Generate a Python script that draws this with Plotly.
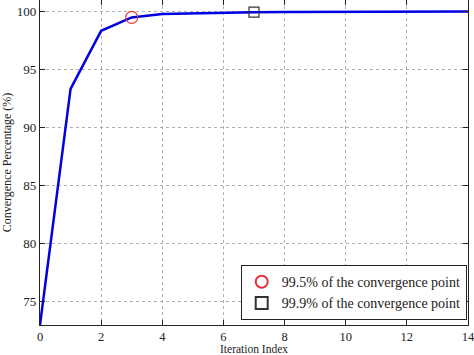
import plotly.graph_objects as go

iterations = list(range(15))
convergence = [73.0, 93.3, 98.3, 99.45, 99.75, 99.82, 99.86, 99.9, 99.92, 99.93, 99.94, 99.95, 99.95, 99.96, 99.96]
pt995_x, pt995_y = [3], [99.45]
pt999_x, pt999_y = [7], [99.9]
x_ticks = [0, 2, 4, 6, 8, 10, 12, 14]
y_ticks = [75, 80, 85, 90, 95, 100]

font = "Liberation Serif"
fig = go.Figure()
fig.add_trace(go.Scatter(x=iterations, y=convergence, mode="lines",
                         line=dict(color="#0000e0", width=2.5), showlegend=False))
fig.add_trace(go.Scatter(x=pt995_x, y=pt995_y, mode="markers",
                         marker=dict(symbol="circle-open", size=12, color="#e8303a", line=dict(width=1.2)),
                         name="99.5% of the convergence point"))
fig.add_trace(go.Scatter(x=pt999_x, y=pt999_y, mode="markers",
                         marker=dict(symbol="square-open", size=10, color="#333333", line=dict(width=1.2)),
                         name="99.9% of the convergence point"))

axis_common = dict(showline=True, linecolor="#222", linewidth=1.2, mirror="ticks",
                   ticks="inside", ticklen=5, tickcolor="#222",
                   showgrid=True, gridcolor="#b0b0b0", griddash="dot", gridwidth=1,
                   zeroline=False, tickfont=dict(family=font, size=13, color="#222"),
                   ticklabeloverflow="allow")
fig.update_xaxes(range=[0, 14], tickvals=x_ticks, **axis_common)
fig.update_xaxes(tickfont=dict(size=12.5), ticklabelstandoff=0)
fig.update_yaxes(range=[73, 100.95], tickvals=y_ticks,
                 title=dict(text="Convergence Percentage (%)", font=dict(family=font, size=12, color="#222"), standoff=6),
                 **axis_common)
fig.add_annotation(text="Iteration Index", xref="paper", yref="paper", x=0.5, y=-0.075,
                   xanchor="center", yanchor="middle", showarrow=False,
                   font=dict(family=font, size=11.5, color="#222"))
fig.update_layout(width=474, height=355, margin=dict(l=40, r=6, t=0, b=30),
                  plot_bgcolor="white", paper_bgcolor="white",
                  legend=dict(x=0.997, y=0.015, xanchor="right", yanchor="bottom",
                              bgcolor="white", bordercolor="#222", borderwidth=1,
                              font=dict(family=font, size=14, color="#222"),
                              tracegroupgap=0, itemsizing="constant"))
fig.write_html("out.html")
